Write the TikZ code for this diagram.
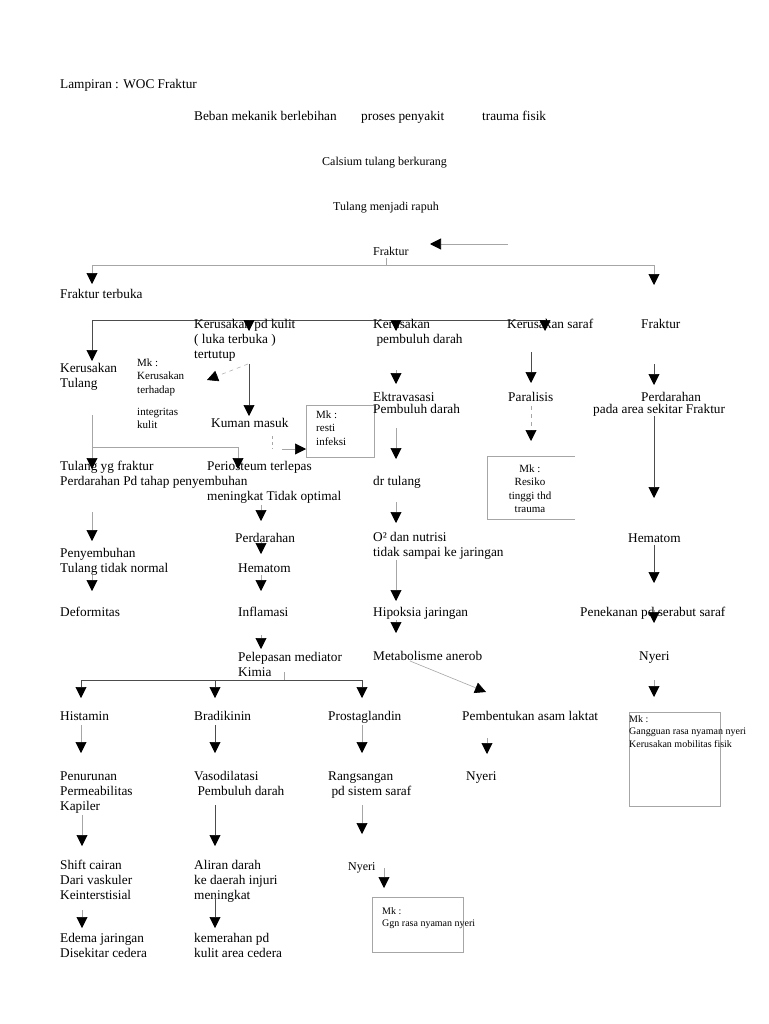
\documentclass[tikz,border=0pt]{standalone}
\usepackage{fontspec}
\setmainfont{Liberation Serif}
\usetikzlibrary{arrows.meta}
\newcommand{\ML}[1]{\begin{tabular}[t]{@{}l@{}}#1\end{tabular}}
\newcommand{\MC}[1]{\begin{tabular}[t]{@{}c@{}}#1\end{tabular}}
\begin{document}
\begin{tikzpicture}[x=1pt,y=-1pt,
 t/.style={anchor=base west,inner sep=0pt,font=\fontsize{13.3}{15}\selectfont},
 s/.style={anchor=base west,inner sep=0pt,font=\fontsize{11}{13.5}\selectfont},
 m/.style={anchor=base west,inner sep=0pt,font=\fontsize{12}{14}\selectfont},
 ar/.style={draw=black!35,line width=0.6pt,-{Triangle[black,length=11pt,width=11pt]}},
 ln/.style={draw=black!35,line width=0.6pt},
 dk/.style={draw=black!70,line width=0.6pt},
 dar/.style={ar,dash pattern=on 4pt off 4pt},
 bx/.style={draw=black!35,line width=0.8pt}]
\useasboundingbox (0,0) rectangle (768,1024);
\fill[white] (0,0) rectangle (768,1024);
\newcommand{\T}[5][t]{\node[#1] (#2) at (#3,#4) {\ML{#5}};}
\T{lamp}{60}{89}{Lampiran : WOC Fraktur}
\T{beban}{194}{121}{Beban mekanik berlebihan}
\T{proses}{361}{121}{proses penyakit}
\T{trauma}{482}{121}{trauma fisik}
\T[m]{calsium}{322}{166}{Calsium tulang berkurang}
\T[m]{rapuh}{333}{211}{Tulang menjadi rapuh}
\T[m]{fraktur}{373}{255}{Fraktur}
\coordinate (fin) at (508,244);
\draw[ar] (fin) -- (430,244);
\draw[ln] (386,258) -- (386,265);
\draw[ln] (92,265) -- (654,265);
\draw[ar] (92,265) -- (92,284);
\draw[ar] (654,265) -- (654,285);
\T{ft}{60}{298}{Fraktur terbuka}
\draw[dk] (92,320) -- (545,320);
\draw[ar,draw=black!70] (92,320) -- (92,361);
\draw[ar] (249,320) -- (249,331);
\draw[ar] (396,320) -- (396,331);
\draw[ar] (545,320) -- (545,331);
\T{kpk}{194}{328}{Kerusakan pd kulit\\( luka terbuka )\\tertutup}
\T{kpd}{373}{328}{Kerusakan\\\ pembuluh darah}
\T{ks}{507}{328}{Kerusakan saraf}
\T{fr2}{641}{328}{Fraktur}
\T{kt}{60}{372}{Kerusakan\\Tulang}
\T[s]{mk1}{137}{366}{Mk :\\Kerusakan\\terhadap}
\T[s]{mk1b}{137}{415}{integritas\\kulit}
\draw[dar,draw=black!30] (248,364) -- (207,380);
\draw[ar,draw=black!70] (249,364) -- (249,416);
\T{kuman}{211}{427}{Kuman masuk}
\draw[bx] (306,405) rectangle (374,457);
\T[s]{mk2}{316}{418}{Mk :\\resti\\infeksi}
\draw[ln,dash pattern=on 3pt off 3pt] (272,436) -- (272,449);
\draw[ar] (282,449) -- (306,449);
\draw[ar] (396,370) -- (396,384);
\node[t,font=\fontsize{13.3}{11}\selectfont] (ekt) at (373,401) {\ML{Ektravasasi\\Pembuluh darah}};
\draw[ar] (396,428) -- (396,459);
\T{dr}{373}{485}{dr tulang}
\draw[ar] (396,502) -- (396,523);
\T{o2}{373}{541}{O² dan nutrisi\\tidak sampai ke jaringan}
\draw[ar] (396,560) -- (396,601);
\T{hip}{373}{616}{Hipoksia jaringan}
\draw[ar] (396,620) -- (396,633);
\T{meta}{373}{660}{Metabolisme anerob}
\draw[ar] (410,661) -- (486,692);
\T{asam}{462}{720}{Pembentukan asam laktat}
\draw[ar] (487,738) -- (487,754);
\T{ny1}{466}{780}{Nyeri}
\draw[ar,draw=black!70] (531,352) -- (531,383);
\T{para}{508}{401}{Paralisis}
\draw[dar] (531,406) -- (531,441);
\draw[bx] (575,456) -- (487,456) -- (487,519) -- (575,519);
\node[s,anchor=base] (mk3) at (530,472) {\MC{Mk :\\Resiko\\tinggi thd\\trauma}};
\draw[ar,draw=black!70] (654,364) -- (654,385);
\T{perd}{641}{401}{Perdarahan}
\T{pada}{593}{413}{pada area sekitar Fraktur}
\draw[ar,draw=black!70] (654,416) -- (654,498);
\T{hem2}{628}{542}{Hematom}
\draw[ar,draw=black!70] (654,545) -- (654,583);
\T{pen}{580}{616}{Penekanan pd serabut saraf}
\draw[ar] (654,610) -- (654,623);
\T{ny2}{639}{660}{Nyeri}
\draw[ar] (654,680) -- (654,697);
\draw[bx] (629,712) rectangle (720,806);
\node[s,font=\fontsize{10}{12.5}\selectfont] (mk4) at (629,722) {\ML{Mk :\\Gangguan rasa nyaman nyeri\\Kerusakan mobilitas fisik}};
\draw[ln] (92,415) -- (92,447) -- (238,447);
\draw[ar] (92,447) -- (92,469);
\draw[ar] (238,447) -- (238,469);
\T{tyf}{60}{470}{Tulang yg fraktur\\Perdarahan Pd tahap penyembuhan}
\T{peri}{207}{470}{Periosteum terlepas}
\T{mening}{207}{500}{meningkat Tidak optimal}
\draw[ar] (92,512) -- (92,541);
\T{peny}{60}{557}{Penyembuhan\\Tulang tidak normal}
\draw[ar] (92,575) -- (92,591);
\T{def}{60}{616}{Deformitas}
\draw[ar] (261,505) -- (261,521);
\T{perd2}{235}{542}{Perdarahan}
\draw[ar] (261,540) -- (261,554);
\T{hem1}{238}{572}{Hematom}
\draw[ar] (261,575) -- (261,591);
\T{infl}{238}{616}{Inflamasi}
\draw[ar] (261,635) -- (261,649);
\T{pel}{238}{661}{Pelepasan mediator\\Kimia}
\draw[ln] (284,672) -- (284,680);
\draw[dk] (81,680) -- (362,680);
\draw[ar,draw=black!70] (81,680) -- (81,698);
\draw[ar,draw=black!70] (215,680) -- (215,698);
\draw[ar,draw=black!70] (362,680) -- (362,698);
\T{hist}{60}{720}{Histamin}
\T{brad}{194}{720}{Bradikinin}
\T{pros}{328}{720}{Prostaglandin}
\draw[ar] (81,725) -- (81,753);
\draw[ar,draw=black!70] (215,725) -- (215,753);
\draw[ar] (362,725) -- (362,753);
\T{penu}{60}{780}{Penurunan\\Permeabilitas\\Kapiler}
\T{vaso}{194}{780}{Vasodilatasi\\\ Pembuluh darah}
\T{rang}{328}{780}{Rangsangan\\\ pd sistem saraf}
\draw[ar] (82,815) -- (82,846);
\draw[ar,draw=black!70] (215,805) -- (215,846);
\draw[ar] (362,805) -- (362,834);
\T{shift}{60}{869}{Shift cairan\\Dari vaskuler\\Keinterstisial}
\T{alir}{194}{869}{Aliran darah\\ke daerah injuri\\meningkat}
\T[m]{ny3}{348}{870}{Nyeri}
\draw[ar] (384,868) -- (384,888);
\draw[bx] (372,897) rectangle (463,952);
\node[s,font=\fontsize{10}{12.5}\selectfont] (mk5) at (382,914) {\ML{Mk :\\Ggn rasa nyaman nyeri}};
\draw[ar] (82,910) -- (82,928);
\draw[ar,draw=black!70] (215,897) -- (215,928);
\T{edema}{60}{942}{Edema jaringan\\Disekitar cedera}
\T{kem}{194}{942}{kemerahan pd\\kulit area cedera}
\end{tikzpicture}
\end{document}
